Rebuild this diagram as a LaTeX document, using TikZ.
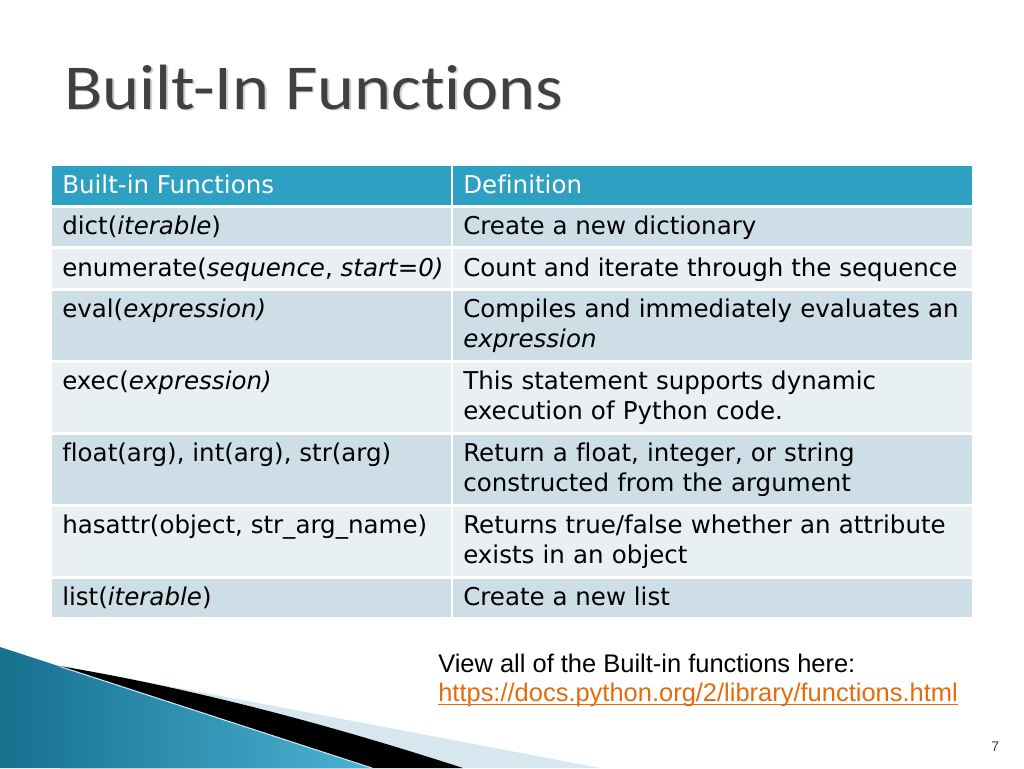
\documentclass[tikz,border=0pt]{standalone}
\usepackage{graphicx}
\usepackage{fontspec}
\setmainfont[Ligatures=NoCommon]{DejaVu Sans}
\newfontfamily\titlefont[Ligatures=NoCommon]{Carlito}
\newfontfamily\arialfont{Liberation Sans}
\usetikzlibrary{calc}
\definecolor{hdrblue}{RGB}{46,160,193}
\definecolor{rowdark}{RGB}{205,222,230}
\definecolor{rowlight}{RGB}{232,240,244}
\definecolor{titlegray}{RGB}{64,64,64}
\definecolor{linkorange}{RGB}{228,108,10}
\definecolor{tealdark}{RGB}{22,112,142}
\definecolor{teallight}{RGB}{75,178,212}
\definecolor{stripeblue}{RGB}{214,231,240}
\tikzset{
  celltext/.style={anchor=base west, inner sep=0pt, font=\fontsize{18.4}{22.5}\selectfont, align=left},
  hdrtext/.style={celltext, text=white},
  wraptext/.style={celltext, text width=380pt},
  foottext/.style={anchor=base west, inner sep=0pt, font=\arialfont\fontsize{19.1}{23}\selectfont},
  titletext/.style={anchor=base west, inner sep=0pt, font=\titlefont\fontsize{48}{56}\selectfont}
}
\begin{document}
\begin{tikzpicture}[x=0.75pt,y=-0.75pt]
\useasboundingbox (0,0) rectangle (1024,768);
\fill[white] (0,0) rectangle (1024,768);

% title
\node[titletext, text=black!18] (titleshadow) at (65.5,110.5) {\scalebox{1.1}[1]{Built-In Functions}};
\node[titletext, text=titlegray] (title) at (64,109) {\scalebox{1.1}[1]{Built-In Functions}};

% table backgrounds
\fill[hdrblue] (52,166) rectangle (451,205);
\fill[hdrblue] (453,166) rectangle (972,205);
\fill[rowdark] (52,208) rectangle (451,246);
\fill[rowdark] (453,208) rectangle (972,246);
\fill[rowlight] (52,249) rectangle (451,288);
\fill[rowlight] (453,249) rectangle (972,288);
\fill[rowdark] (52,291) rectangle (451,360);
\fill[rowdark] (453,291) rectangle (972,360);
\fill[rowlight] (52,363) rectangle (451,432);
\fill[rowlight] (453,363) rectangle (972,432);
\fill[rowdark] (52,435) rectangle (451,504);
\fill[rowdark] (453,435) rectangle (972,504);
\fill[rowlight] (52,507) rectangle (451,576);
\fill[rowlight] (453,507) rectangle (972,576);
\fill[rowdark] (52,579) rectangle (451,617);
\fill[rowdark] (453,579) rectangle (972,617);

% header text
\node[hdrtext] (h1) at (62,193) {Built-in Functions};
\node[hdrtext] (h2) at (463,193) {Definition};

% rows
\node[celltext] (f1) at (62,234) {dict(\textit{iterable})};
\node[celltext] (d1) at (463,234) {Create a new dictionary};
\node[celltext] (f2) at (62,276) {enumerate(\textit{sequence}, \textit{start=0)}};
\node[celltext] (d2) at (463,276) {Count and iterate through the sequence};
\node[celltext] (f3) at (62,317) {eval(\textit{expression)}};
\node[wraptext] (d3) at (463,317) {Compiles and immediately evaluates an\\\textit{expression}};
\node[celltext] (f4) at (62,389) {exec(\textit{expression)}};
\node[wraptext] (d4) at (463,389) {This statement supports dynamic\\execution of Python code.};
\node[celltext] (f5) at (62,461) {float(arg), int(arg), str(arg)};
\node[wraptext] (d5) at (463,461) {Return a float, integer, or string\\constructed from the argument};
\node[celltext] (f6) at (62,533) {hasattr(object, str\_arg\_name)};
\node[wraptext] (d6) at (463,533) {Returns true/false whether an attribute\\exists in an object};
\node[celltext] (f7) at (62,605) {list(\textit{iterable})};
\node[celltext] (d7) at (463,605) {Create a new list};

% footer text
\node[foottext] (note) at (438,672) {View all of the Built-in functions here:};
\node[foottext, text=linkorange] (link) at (438,701) {https://docs.python.org/2/library/functions.html};
\draw[linkorange, line width=1pt] ($(link.base west)+(0,3.5)$) -- ($(link.base east)+(0,3.5)$);

% page number
\node[anchor=base west, inner sep=0pt, text=titlegray, font=\arialfont\fontsize{10.5}{12}\selectfont] (pagenum) at (991,751) {7};

% bottom-left decoration
\fill[stripeblue] (100,673) -- (600,768) -- (60,768) -- cycle;
\fill[black] (60,666) .. controls (200,690) and (330,725) .. (463,768) -- (60,768) -- cycle;
\shade[left color=tealdark, right color=teallight] (0,647) -- (372,768) -- (0,768) -- cycle;
\draw[white!70!teallight, line width=0.8pt] (60,666.5) -- (372,768);
\end{tikzpicture}
\end{document}
